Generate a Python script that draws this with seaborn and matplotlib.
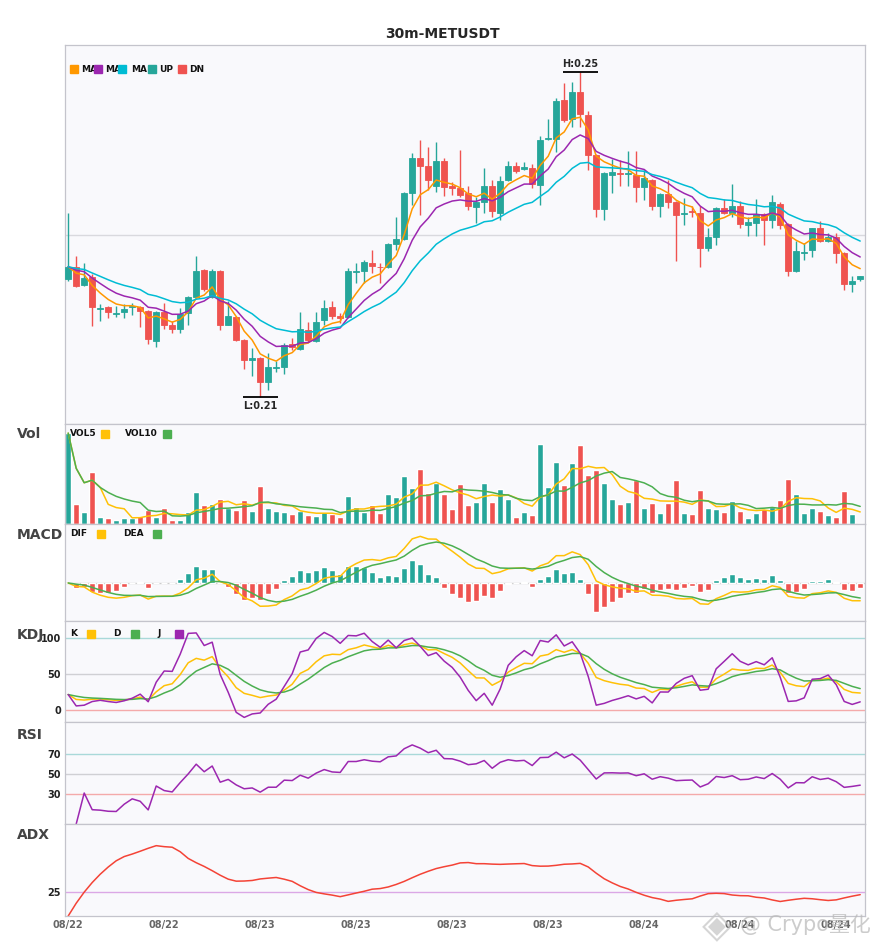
import numpy as np
import pandas as pd
import seaborn as sns
import matplotlib.pyplot as plt
from matplotlib.lines import Line2D
from matplotlib.transforms import Bbox

# 30m candles (price in USDT)
opens = [0.2246, 0.2261, 0.2239, 0.2248, 0.2209, 0.2212, 0.2203, 0.2205, 0.2212, 0.2211,
         0.2207, 0.2170, 0.2205, 0.2190, 0.2185, 0.2204, 0.2224, 0.2257, 0.2224, 0.2256,
         0.2190, 0.2199, 0.2171, 0.2146, 0.2149, 0.2120, 0.2137, 0.2138, 0.2166, 0.2160,
         0.2183, 0.2170, 0.2195, 0.2212, 0.2200, 0.2199, 0.2255, 0.2256, 0.2265, 0.2261,
         0.2260, 0.2289, 0.2295, 0.2351, 0.2394, 0.2385, 0.2360, 0.2391, 0.2360, 0.2358,
         0.2351, 0.2334, 0.2341, 0.2360, 0.2327, 0.2367, 0.2385, 0.2381, 0.2382, 0.2361,
         0.2418, 0.2418, 0.2465, 0.2442, 0.2475, 0.2447, 0.2398, 0.2332, 0.2374, 0.2376,
         0.2375, 0.2374, 0.2359, 0.2368, 0.2336, 0.2350, 0.2341, 0.2326, 0.2329, 0.2327,
         0.2284, 0.2298, 0.2333, 0.2327, 0.2336, 0.2312, 0.2315, 0.2326, 0.2318, 0.2338,
         0.2314, 0.2256, 0.2278, 0.2281, 0.2309, 0.2292, 0.2298, 0.2278, 0.2240, 0.2246]
highs = [0.2327, 0.2274, 0.2265, 0.2252, 0.2215, 0.2213, 0.2213, 0.2215, 0.2217, 0.2213,
         0.2208, 0.2206, 0.2216, 0.2194, 0.2210, 0.2225, 0.2274, 0.2258, 0.2258, 0.2257,
         0.2219, 0.2200, 0.2172, 0.2161, 0.2150, 0.2155, 0.2145, 0.2167, 0.2174, 0.2205,
         0.2193, 0.2205, 0.2220, 0.2219, 0.2204, 0.2259, 0.2265, 0.2269, 0.2282, 0.2266,
         0.2290, 0.2322, 0.2353, 0.2400, 0.2417, 0.2408, 0.2414, 0.2394, 0.2365, 0.2404,
         0.2360, 0.2347, 0.2382, 0.2367, 0.2372, 0.2391, 0.2390, 0.2390, 0.2387, 0.2421,
         0.2442, 0.2468, 0.2487, 0.2488, 0.2500, 0.2452, 0.2399, 0.2377, 0.2393, 0.2392,
         0.2403, 0.2403, 0.2380, 0.2369, 0.2352, 0.2367, 0.2342, 0.2345, 0.2336, 0.2336,
         0.2308, 0.2334, 0.2344, 0.2363, 0.2342, 0.2322, 0.2344, 0.2327, 0.2349, 0.2340,
         0.2315, 0.2293, 0.2290, 0.2309, 0.2317, 0.2302, 0.2302, 0.2279, 0.2250, 0.2250]
lows = [0.2243, 0.2236, 0.2237, 0.2188, 0.2194, 0.2198, 0.2199, 0.2198, 0.2202, 0.2187,
        0.2166, 0.2162, 0.2185, 0.2180, 0.2180, 0.2189, 0.2223, 0.2231, 0.2223, 0.2183,
        0.2189, 0.2170, 0.2136, 0.2127, 0.2101, 0.2110, 0.2132, 0.2129, 0.2159, 0.2159,
        0.2168, 0.2169, 0.2190, 0.2197, 0.2192, 0.2198, 0.2241, 0.2241, 0.2253, 0.2241,
        0.2259, 0.2282, 0.2294, 0.2337, 0.2325, 0.2355, 0.2353, 0.2348, 0.2349, 0.2347,
        0.2331, 0.2315, 0.2327, 0.2322, 0.2318, 0.2366, 0.2376, 0.2380, 0.2357, 0.2337,
        0.2417, 0.2402, 0.2439, 0.2432, 0.2432, 0.2380, 0.2322, 0.2318, 0.2351, 0.2360,
        0.2360, 0.2340, 0.2343, 0.2331, 0.2322, 0.2333, 0.2268, 0.2312, 0.2322, 0.2260,
        0.2280, 0.2288, 0.2326, 0.2322, 0.2309, 0.2299, 0.2299, 0.2288, 0.2309, 0.2307,
        0.2249, 0.2254, 0.2269, 0.2273, 0.2291, 0.2291, 0.2265, 0.2232, 0.2230, 0.2244]
closes = [0.2261, 0.2237, 0.2247, 0.2212, 0.2210, 0.2205, 0.2204, 0.2209, 0.2213, 0.2207,
          0.2172, 0.2205, 0.2190, 0.2185, 0.2203, 0.2224, 0.2256, 0.2234, 0.2256, 0.2190,
          0.2201, 0.2171, 0.2146, 0.2149, 0.2120, 0.2138, 0.2138, 0.2165, 0.2163, 0.2185,
          0.2171, 0.2193, 0.2210, 0.2200, 0.2198, 0.2256, 0.2256, 0.2267, 0.2262, 0.2260,
          0.2289, 0.2295, 0.2352, 0.2395, 0.2384, 0.2368, 0.2391, 0.2359, 0.2358, 0.2349,
          0.2335, 0.2340, 0.2360, 0.2329, 0.2366, 0.2384, 0.2379, 0.2383, 0.2363, 0.2417,
          0.2419, 0.2464, 0.2441, 0.2475, 0.2448, 0.2398, 0.2332, 0.2376, 0.2377, 0.2375,
          0.2376, 0.2359, 0.2370, 0.2336, 0.2350, 0.2341, 0.2325, 0.2327, 0.2328, 0.2284,
          0.2298, 0.2333, 0.2327, 0.2336, 0.2314, 0.2316, 0.2326, 0.2318, 0.2340, 0.2312,
          0.2256, 0.2280, 0.2279, 0.2308, 0.2292, 0.2298, 0.2278, 0.2240, 0.2244, 0.2249]
# volume, relative units (no axis on the chart)
volumes = [271, 61, 37, 154, 22, 19, 13, 19, 19, 25,
           43, 22, 49, 13, 13, 37, 94, 58, 61, 76,
           49, 43, 73, 40, 112, 49, 40, 37, 31, 40,
           28, 25, 37, 31, 22, 82, 52, 37, 58, 34,
           88, 79, 142, 106, 163, 91, 121, 88, 46, 118,
           58, 67, 121, 67, 103, 76, 22, 37, 28, 238,
           109, 184, 115, 181, 235, 145, 160, 121, 76, 61,
           67, 130, 49, 64, 34, 64, 130, 34, 31, 100,
           49, 46, 37, 70, 40, 19, 34, 46, 52, 73,
           133, 88, 34, 49, 40, 28, 22, 97, 31, 2]
tick_pos = [0, 12, 24, 36, 48, 60, 72, 84, 96]
tick_labels = ['08/22', '08/22', '08/23', '08/23', '08/23', '08/23', '08/24', '08/24', '08/24']

UP_C = '#26a69a'
DN_C = '#ef5350'
MA_COLORS = ['#ff9800', '#9c27b0', '#00bcd4']

df = pd.DataFrame({'open': opens, 'high': highs, 'low': lows, 'close': closes, 'vol': volumes})
df['x'] = np.arange(len(df))
up = df['close'] >= df['open']
colors = np.where(up, UP_C, DN_C)

# indicators
df['ma5'] = df['close'].ewm(span=5, adjust=False).mean()
df['ma10'] = df['close'].ewm(span=10, adjust=False).mean()
df['ma20'] = df['close'].ewm(span=20, adjust=False).mean()
df['vol5'] = df['vol'].rolling(5, min_periods=1).mean()
df['vol10'] = df['vol'].rolling(10, min_periods=1).mean()

# fast MACD (6, 13, 5)
ema_fast = df['close'].ewm(span=6, adjust=False).mean()
ema_slow = df['close'].ewm(span=13, adjust=False).mean()
df['dif'] = ema_fast - ema_slow
df['dea'] = df['dif'].ewm(span=5, adjust=False).mean()
df['hist'] = 2 * (df['dif'] - df['dea'])

low9 = df['low'].rolling(9, min_periods=1).min()
high9 = df['high'].rolling(9, min_periods=1).max()
rsv = (df['close'] - low9) / (high9 - low9) * 100
df['k'] = rsv.ewm(com=2, adjust=False).mean()
df['d'] = df['k'].ewm(com=2, adjust=False).mean()
df['j'] = 3 * df['k'] - 2 * df['d']

delta = df['close'].diff()
gain = delta.clip(lower=0)
loss = -delta.clip(upper=0)
avg_gain = gain.ewm(alpha=1 / 14).mean()
avg_loss = loss.ewm(alpha=1 / 14).mean()
df['rsi'] = 100 - 100 / (1 + avg_gain / avg_loss)

prev_close = df['close'].shift()
tr = pd.concat([df['high'] - df['low'], (df['high'] - prev_close).abs(),
                (df['low'] - prev_close).abs()], axis=1).max(axis=1)
up_move = df['high'].diff()
down_move = -df['low'].diff()
plus_dm = pd.Series(np.where((up_move > down_move) & (up_move > 0), up_move, 0.0))
minus_dm = pd.Series(np.where((down_move > up_move) & (down_move > 0), down_move, 0.0))
atr = tr.ewm(alpha=1 / 14).mean()
plus_di = 100 * plus_dm.ewm(alpha=1 / 14).mean() / atr
minus_di = 100 * minus_dm.ewm(alpha=1 / 14).mean() / atr
dx = (100 * (plus_di - minus_di).abs() / (plus_di + minus_di)).fillna(0)
df['adx'] = dx.ewm(span=14, adjust=False).mean()

# Plotting...
sns.set_theme(style='white')
plt.rcParams['font.family'] = ['DejaVu Sans', 'Noto Sans CJK SC']

W, H = 885, 950
fig = plt.figure(figsize=(W / 100, H / 100), dpi=100)


def panel(top, bottom):
    ax = fig.add_axes([65 / W, 1 - bottom / H, 800 / W, (bottom - top) / H])
    ax.set_facecolor('#f9f9fc')
    for s in ax.spines.values():
        s.set_color('#c4c4cc')
        s.set_linewidth(0.9)
    ax.set_xlim(-0.4, 99.6)
    ax.tick_params(axis='both', length=0, labelsize=7, pad=3)
    ax.set_xticks([])
    return ax


def legend_row(y_px, items, marker_first):
    # items: (text_left_px, label, square_center_px, color, clip_right_px)
    z = 10
    for tx, label, sx, c, clip in items:
        parts = [('sq', sx), ('tx', tx)] if marker_first else [('tx', tx), ('sq', sx)]
        for kind, px in parts:
            if kind == 'sq':
                fig.add_artist(Line2D([px / W], [1 - y_px / H], marker='s', ls='', color=c,
                                      markersize=6, zorder=z))
            else:
                t = fig.text(px / W, 1 - y_px / H, label, ha='left', va='center', fontsize=6.5,
                             fontweight='bold', color='#111111', zorder=z)
                if clip:
                    t.set_clip_box(Bbox.from_extents(px - 2, 0, clip, H))
                    t.set_clip_on(True)
            z += 1


def bold_yticks(ax, ticks):
    ax.set_yticks(ticks)
    ax.set_yticklabels([str(t) for t in ticks], fontweight='bold', color='#222222')


def clean(ax):
    ax.set_xlabel('')
    ax.set_ylabel('')


ax_main = panel(45, 424)
ax_vol = panel(424, 524)
ax_macd = panel(524, 621)
ax_kdj = panel(621, 722)
ax_rsi = panel(722, 824)
ax_adx = panel(824, 916)

# main candles
ax_main.axhline(0.23, color='#d9d9de', lw=1, zorder=0)
ax_main.vlines(df['x'], df['low'], df['high'], colors=colors, lw=1, zorder=2)
ax_main.bar(df['x'], (df['close'] - df['open']).abs(), bottom=np.minimum(df['open'], df['close']),
            width=0.72, color=colors, edgecolor=colors, linewidth=0.6, zorder=3)
sns.lineplot(data=df, x='x', y='ma5', ax=ax_main, color=MA_COLORS[0], lw=1.1, zorder=4)
sns.lineplot(data=df, x='x', y='ma10', ax=ax_main, color=MA_COLORS[1], lw=1.1, zorder=4)
sns.lineplot(data=df, x='x', y='ma20', ax=ax_main, color=MA_COLORS[2], lw=1.1, zorder=4)
lo, hi = df['low'].min(), df['high'].max()
pad = (hi - lo) * 0.083
ax_main.set_ylim(lo - pad, hi + pad)
ax_main.set_yticks([])
clean(ax_main)
ih, il = int(df['high'].idxmax()), int(df['low'].idxmin())
ax_main.hlines(hi, ih - 2.2, ih + 2.2, color='black', lw=1.3, zorder=5)
ax_main.annotate(f'H:{hi:.2f}', (ih, hi), xytext=(0, 2), textcoords='offset points',
                 ha='center', va='bottom', fontsize=7, fontweight='bold')
ax_main.hlines(lo, il - 2.2, il + 2.2, color='black', lw=1.3, zorder=5)
ax_main.annotate(f'L:{lo:.2f}', (il, lo), xytext=(0, -3), textcoords='offset points',
                 ha='center', va='top', fontsize=7, fontweight='bold')
legend_row(69, [(81, 'MA5', 74, MA_COLORS[0], 94), (105, 'MA10', 98, MA_COLORS[1], 118),
                (131, 'MA20', 122, MA_COLORS[2], 147), (159, 'UP', 152, UP_C, None),
                (189, 'DN', 182, DN_C, None)], True)

# volume
ax_vol.bar(df['x'], df['vol'], width=0.78, color=colors, zorder=2)
sns.lineplot(data=df, x='x', y='vol5', ax=ax_vol, color='#ffc107', lw=1.1, zorder=3)
sns.lineplot(data=df, x='x', y='vol10', ax=ax_vol, color='#4caf50', lw=1.1, zorder=3)
ax_vol.set_ylim(0, df['vol'].max() * 1.1)
ax_vol.set_yticks([])
clean(ax_vol)
legend_row(434, [(70, 'VOL5', 105, '#ffc107', None), (125, 'VOL10', 167, '#4caf50', None)], False)

# MACD
ax_macd.axhline(0, color='#cccccc', lw=1, zorder=0)
ax_macd.bar(df['x'], df['hist'], width=0.72, color=np.where(df['hist'] >= 0, UP_C, DN_C), zorder=2)
sns.lineplot(data=df, x='x', y='dif', ax=ax_macd, color='#ffc107', lw=1.1, zorder=3)
sns.lineplot(data=df, x='x', y='dea', ax=ax_macd, color='#4caf50', lw=1.1, zorder=3)
ax_macd.set_ylim(-0.0038, 0.0059)
ax_macd.set_yticks([])
clean(ax_macd)
legend_row(534, [(70, 'DIF', 101, '#ffc107', None), (123, 'DEA', 157, '#4caf50', None)], False)

# KDJ
ax_kdj.axhline(100, color='#a9d9d9', lw=1, zorder=0)
ax_kdj.axhline(50, color='#d0d0d4', lw=1, zorder=0)
ax_kdj.axhline(0, color='#f4aaaa', lw=1, zorder=0)
sns.lineplot(data=df, x='x', y='k', ax=ax_kdj, color='#ffc107', lw=1.1)
sns.lineplot(data=df, x='x', y='d', ax=ax_kdj, color='#4caf50', lw=1.1)
sns.lineplot(data=df, x='x', y='j', ax=ax_kdj, color='#9c27b0', lw=1.1)
ax_kdj.set_ylim(-16.7, 123.6)
bold_yticks(ax_kdj, [0, 50, 100])
clean(ax_kdj)
legend_row(634, [(70, 'K', 91, '#ffc107', None), (113, 'D', 135, '#4caf50', None),
                 (157, 'J', 179, '#9c27b0', None)], False)

# RSI
ax_rsi.axhline(70, color='#a9d9d9', lw=1, zorder=0)
ax_rsi.axhline(50, color='#d0d0d4', lw=1, zorder=0)
ax_rsi.axhline(30, color='#f4aaaa', lw=1, zorder=0)
sns.lineplot(data=df, x='x', y='rsi', ax=ax_rsi, color='#9c27b0', lw=1.1)
ax_rsi.set_ylim(0, 102)
bold_yticks(ax_rsi, [30, 50, 70])
clean(ax_rsi)

# ADX
ax_adx.axhline(25, color='#dba8e6', lw=1, zorder=0)
sns.lineplot(data=df, x='x', y='adx', ax=ax_adx, color='#f44336', lw=1.1)
ax_adx.set_ylim(0, 96)
bold_yticks(ax_adx, [25])
ax_adx.set_xticks(tick_pos)
ax_adx.set_xticklabels(tick_labels, fontweight='bold', color='#666666', fontsize=7)
ax_adx.tick_params(axis='x', pad=3)
clean(ax_adx)

# titles and panel names
fig.text(0.5, 1 - 34 / H, '30m-METUSDT', ha='center', va='center', fontsize=10, fontweight='bold')
for name, y in [('Vol', 434), ('MACD', 535), ('KDJ', 635), ('RSI', 735), ('ADX', 835)]:
    fig.text(17 / W, 1 - y / H, name, ha='left', va='center', fontsize=10,
             fontweight='bold', color='#444444')

# watermark
fig.text(702 / W, 1 - 925 / H, '◈', ha='left', va='center', fontsize=28, color='#c4c4c4', alpha=0.7)
fig.text(740 / W, 1 - 925 / H, '@ Crypo量化', ha='left', va='center', fontsize=15,
         color='#bbbbbb', alpha=0.75, family=['DejaVu Sans', 'Noto Sans CJK SC'])

fig.savefig('out.png', dpi=100)
